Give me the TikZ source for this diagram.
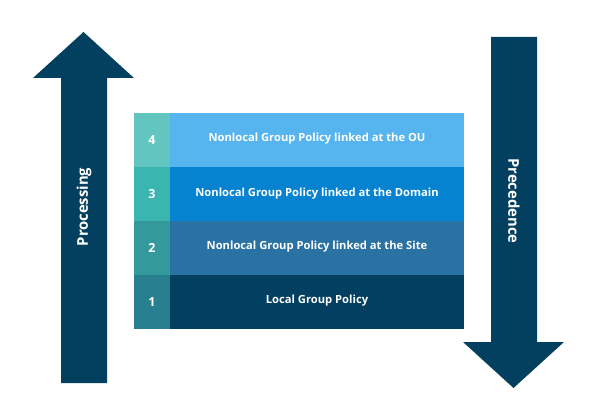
\documentclass[tikz,border=0pt]{standalone}
\usepackage{fontspec}
\setmainfont{Open Sans}
\definecolor{navy}{HTML}{03405F}
\definecolor{rowA}{HTML}{56B4EE}
\definecolor{rowB}{HTML}{0683D0}
\definecolor{rowC}{HTML}{2A72A3}
\definecolor{rowD}{HTML}{033F60}
\definecolor{numA}{HTML}{63C5C0}
\definecolor{numB}{HTML}{3BB5B0}
\definecolor{numC}{HTML}{34999B}
\definecolor{numD}{HTML}{277F8F}
\tikzset{
  rowtext/.style={text=white,font=\bfseries\fontsize{11.2}{13}\selectfont,anchor=center},
  numtext/.style={text=white,font=\bfseries\fontsize{12.5}{14}\selectfont,anchor=center},
  arrowtext/.style={text=white,font=\bfseries\fontsize{14.8}{18}\selectfont,anchor=center},
  bigarrow/.style={fill=navy,draw=none}
}
\begin{document}
\begin{tikzpicture}[x=1pt,y=-1pt]
\useasboundingbox (0,0) rectangle (597,420);
% Processing arrow (up)
\fill[bigarrow] (61,383) -- (61,78) -- (33,78) -- (83.5,32) -- (134,78) -- (107,78) -- (107,383) -- cycle;
\node[arrowtext,rotate=90] (proc) at (84,207) {Processing};
% Precedence arrow (down)
\fill[bigarrow] (491,37) -- (537,37) -- (537,342) -- (564,342) -- (513.5,388) -- (463,342) -- (491,342) -- cycle;
\node[arrowtext,rotate=-90] (prec) at (514,201) {Precedence};
% rows
\fill[rowA] (170,113) rectangle (464,167);
\fill[rowB] (170,167) rectangle (464,221);
\fill[rowC] (170,221) rectangle (464,275);
\fill[rowD] (170,275) rectangle (464,329);
\fill[numA] (134,113) rectangle (170,167);
\fill[numB] (134,167) rectangle (170,221);
\fill[numC] (134,221) rectangle (170,275);
\fill[numD] (134,275) rectangle (170,329);
\node[numtext] (n4) at (152,140) {4};
\node[numtext] (n3) at (152,194) {3};
\node[numtext] (n2) at (152,248) {2};
\node[numtext] (n1) at (152,302) {1};
\node[rowtext] (r4) at (317,139) {Nonlocal Group Policy linked at the OU};
\node[rowtext] (r3) at (317,194) {Nonlocal Group Policy linked at the Domain};
\node[rowtext] (r2) at (317,247) {Nonlocal Group Policy linked at the Site};
\node[rowtext] (r1) at (317,301) {Local Group Policy};
\end{tikzpicture}
\end{document}
